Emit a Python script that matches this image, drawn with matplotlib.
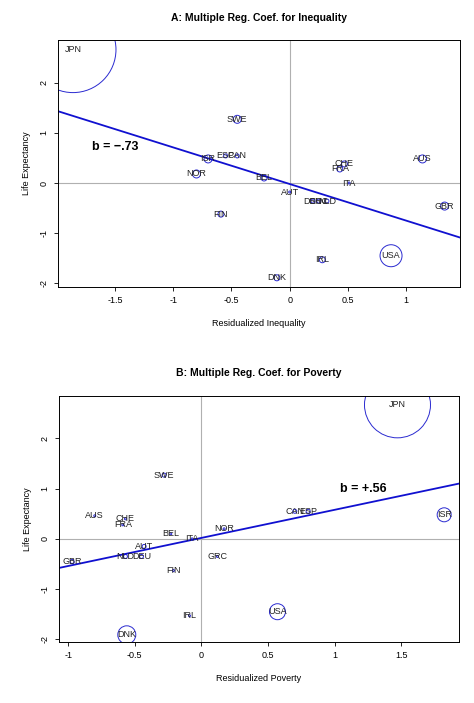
import matplotlib
matplotlib.use("Agg")
import matplotlib.pyplot as plt
import numpy as np

# Panel A: residualized inequality vs life expectancy
a_codes = ["JPN", "SWE", "ESP", "CAN", "ISR", "NOR", "BEL", "AUT", "DEU", "GRC", "NLD",
           "CHE", "FRA", "ITA", "AUS", "GBR", "FIN", "IRL", "USA", "DNK"]
a_x = [-1.86, -0.45, -0.55, -0.45, -0.70, -0.80, -0.22, 0.0, 0.20, 0.25, 0.32,
       0.47, 0.43, 0.51, 1.14, 1.33, -0.59, 0.28, 0.87, -0.11]
a_y = [2.66, 1.27, 0.54, 0.54, 0.48, 0.18, 0.10, -0.18, -0.36, -0.36, -0.36,
       0.38, 0.28, 0.0, 0.48, -0.46, -0.62, -1.53, -1.45, -1.89]
a_rad = [43, 4, 2, 2, 4, 4, 3, 1, 2, 2, 2, 3, 3, 1, 4, 4, 3, 3, 11, 3]
a_slope, a_icept = -0.73, -0.02

# Panel B: residualized poverty vs life expectancy
b_codes = ["JPN", "SWE", "CAN", "ESP", "ISR", "AUS", "CHE", "FRA", "BEL", "ITA", "NOR",
           "AUT", "NLD", "DEU", "GBR", "GRC", "FIN", "IRL", "USA", "DNK"]
b_x = [1.47, -0.28, 0.70, 0.80, 1.82, -0.80, -0.57, -0.59, -0.23, -0.07, 0.17,
       -0.43, -0.57, -0.45, -0.97, 0.12, -0.21, -0.09, 0.57, -0.56]
b_y = [2.67, 1.27, 0.55, 0.55, 0.48, 0.46, 0.40, 0.28, 0.10, 0.0, 0.20,
       -0.15, -0.35, -0.35, -0.45, -0.35, -0.63, -1.53, -1.45, -1.91]
b_rad = [33, 2, 2, 2, 7, 1, 1, 1, 1, 1, 1, 2, 2, 2, 2, 1, 1, 1, 8, 9]
b_slope, b_icept = 0.56, 0.02

plt.rcParams["font.family"] = ["Liberation Sans", "DejaVu Sans"]
fig = plt.figure(figsize=(4.74, 7.03), dpi=100)


def panel(rect, title, codes, xs, ys, rad, slope, icept, xlim, ylim, xticks, xlabel, btext, bpos):
    ax = fig.add_axes(rect)
    ax.set_xlim(*xlim)
    ax.set_ylim(*ylim)
    ax.axhline(0, color="#b0b0b0", lw=0.8, zorder=0)
    ax.axvline(0, color="#b0b0b0", lw=0.8, zorder=0)
    sizes = [(2 * r * 0.72) ** 2 for r in rad]
    ax.scatter(xs, ys, s=sizes, facecolors="none", edgecolors="#2a2ad0", linewidths=0.7)
    for c, x, y in zip(codes, xs, ys):
        ax.text(x, y, c, ha="center", va="center", fontsize=6.5, color="#222222")
    lx = np.array(xlim)
    ax.plot(lx, icept + slope * lx, color="#1010d0", lw=1.3)
    ax.text(bpos[0], bpos[1], btext, fontsize=9, fontweight="bold", ha="center", va="center")
    ax.set_xticks(xticks)
    ax.set_xticklabels([f"{t:g}" for t in xticks])
    ax.set_yticks([-2, -1, 0, 1, 2])
    ax.set_yticklabels(["-2", "-1", "0", "1", "2"], rotation=90, va="center")
    ax.tick_params(labelsize=6.5, length=3, width=0.6)
    ax.set_xlabel(xlabel, fontsize=6.5, labelpad=10)
    ax.set_ylabel("Life Expectancy", fontsize=6.5, labelpad=6)
    ax.set_title(title, fontsize=7.5, fontweight="bold", pad=14)
    for s in ax.spines.values():
        s.set_linewidth(0.7)
    return ax


panel([0.122, 0.592, 0.848, 0.351], "A: Multiple Reg. Coef. for Inequality",
      a_codes, a_x, a_y, a_rad, a_slope, a_icept, (-1.99, 1.46), (-2.07, 2.85),
      [-1.5, -1.0, -0.5, 0.0, 0.5, 1.0], "Residualized Inequality", "b = \u2212.73", (-1.5, 0.72))
panel([0.124, 0.087, 0.844, 0.350], "B: Multiple Reg. Coef. for Poverty",
      b_codes, b_x, b_y, b_rad, b_slope, b_icept, (-1.07, 1.93), (-2.05, 2.85),
      [-1.0, -0.5, 0.0, 0.5, 1.0, 1.5], "Residualized Poverty", "b = +.56", (1.21, 1.0))

fig.savefig("out.png", dpi=100, facecolor="white")
